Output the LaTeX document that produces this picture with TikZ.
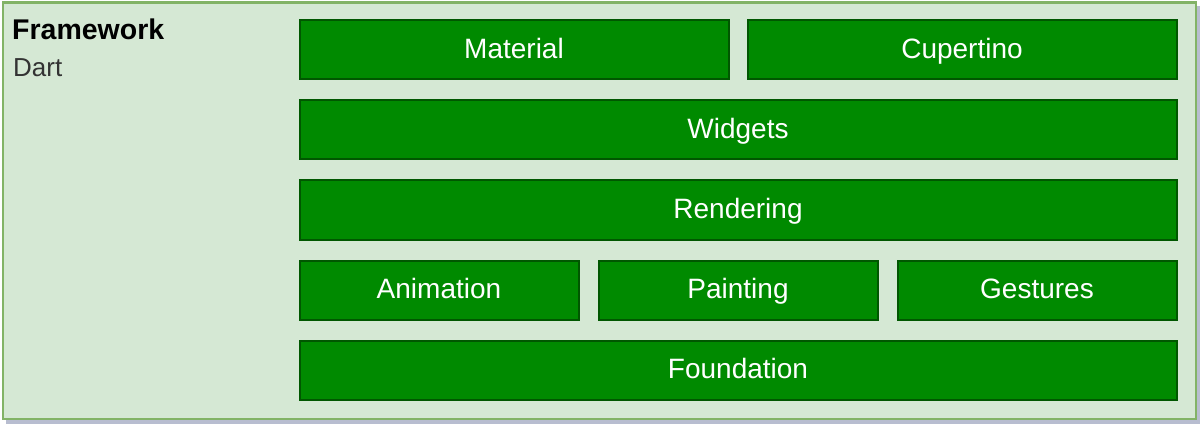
\documentclass[tikz,border=0pt]{standalone}
\usepackage{fontspec}
\setmainfont{Liberation Sans}
\begin{document}
\begin{tikzpicture}[x=1pt,y=-1pt]
\useasboundingbox (0,0) rectangle (1200,425);
\definecolor{frm}{HTML}{82B366}
\definecolor{frmfill}{HTML}{D5E8D4}
\definecolor{blkfill}{HTML}{008A00}
\definecolor{blkdraw}{HTML}{005700}
\definecolor{shd}{HTML}{B8BDD0}
\fill[shd] (6,6) rectangle (1200,424);
\node[draw=frm, line width=2.5pt, fill=frmfill, minimum width=1193pt, minimum height=416pt, anchor=north west, inner sep=0pt] (frame) at (1.5,1.5) {};
\node[anchor=north west, inner sep=0pt, font=\bfseries\fontsize{28.5}{32}\selectfont] (fw) at (12,19) {Framework};
\node[anchor=north west, inner sep=0pt, font=\fontsize{26}{30}\selectfont, text=black!80] (dart) at (13,58) {Dart};
\tikzset{bx/.style={draw=blkdraw, line width=2pt, fill=blkfill, text=white, font=\fontsize{28}{32}\selectfont, inner sep=0pt, minimum height=59pt, text height=20pt, text depth=3pt}}
\node[bx, minimum width=429pt] (material) at (514,50) {Material};
\node[bx, minimum width=429pt] (cupertino) at (962,50) {Cupertino};
\node[bx, minimum width=877pt] (widgets) at (738,130) {Widgets};
\node[bx, minimum width=877pt] (rendering) at (738,210) {Rendering};
\node[bx, minimum width=279pt] (animation) at (439,290) {Animation};
\node[bx, minimum width=279pt] (painting) at (738,290) {Painting};
\node[bx, minimum width=279pt] (gestures) at (1037,290) {Gestures};
\node[bx, minimum width=877pt] (foundation) at (738,370) {Foundation};
\end{tikzpicture}
\end{document}
